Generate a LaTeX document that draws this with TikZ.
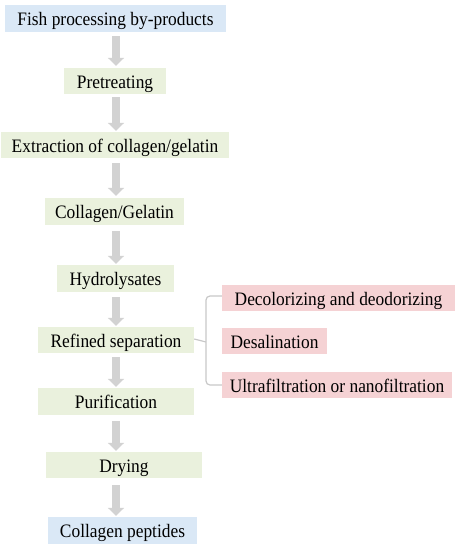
\documentclass[tikz,border=0pt]{standalone}
\usepackage{fontspec}
\setmainfont{Liberation Serif}[FakeStretch=0.915]
\usetikzlibrary{arrows.meta,calc}
\definecolor{boxblue}{HTML}{DAE8F6}
\definecolor{boxgreen}{HTML}{EAF1DD}
\definecolor{boxpink}{HTML}{F5D2D4}
\definecolor{arrowgray}{HTML}{D2D2D2}
\definecolor{bracketgray}{HTML}{C8C8C8}
\begin{document}
\begin{tikzpicture}[x=1pt,y=-1pt,
  box/.style={inner sep=0pt,font=\fontsize{19}{22}\selectfont,text=black,text height=14pt,text depth=0pt},
  bluebox/.style={box,fill=boxblue},
  greenbox/.style={box,fill=boxgreen},
  pinkbox/.style={box,fill=boxpink},
  flowarrow/.style={draw=arrowgray,line width=8pt,-{Triangle[width=16pt,length=8pt]}},
  bracketline/.style={draw=bracketgray,line width=1.2pt}]
\useasboundingbox (0,0) rectangle (465,550);
% boxes: centre, width, height
\node[bluebox,minimum width=221pt,minimum height=27pt] (b1) at (115.5,18.5) {Fish processing by-products};
\node[greenbox,minimum width=102pt,minimum height=26pt] (b2) at (115,81) {Pretreating};
\node[greenbox,minimum width=228pt,minimum height=26pt] (b3) at (115,145) {Extraction of collagen/gelatin};
\node[greenbox,minimum width=139pt,minimum height=27pt] (b4) at (114.5,211.5) {Collagen/Gelatin};
\node[greenbox,minimum width=117pt,minimum height=27pt] (b5) at (115.5,278.5) {Hydrolysates};
\node[greenbox,minimum width=156pt,minimum height=26pt] (b6) at (116,340) {Refined separation};
\node[greenbox,minimum width=156pt,minimum height=27pt] (b7) at (116,401.5) {Purification};
\node[greenbox,minimum width=156pt,minimum height=26pt] (b8) at (124,465) {Drying};
\node[bluebox,minimum width=149pt,minimum height=27pt] (b9) at (122.5,530.5) {Collagen peptides};
\node[pinkbox,minimum width=233pt,minimum height=26pt] (p1) at (338.5,298) {Decolorizing and deodorizing};
\node[pinkbox,minimum width=105pt,minimum height=26pt] (p2) at (274.5,341) {Desalination};
\node[pinkbox,minimum width=230pt,minimum height=26pt] (p3) at (337,385) {Ultrafiltration or nanofiltration};
% arrows
\coordinate (ax) at (116,0);
\draw[flowarrow] ([yshift=-4pt]b1.south -| ax) -- ([yshift=2pt]b2.north -| ax);
\draw[flowarrow] ([yshift=-3pt]b2.south -| ax) -- ([yshift=1pt]b3.north -| ax);
\draw[flowarrow] ([yshift=-5pt]b3.south -| ax) -- ([yshift=2pt]b4.north -| ax);
\draw[flowarrow] ([yshift=-6pt]b4.south -| ax) -- ([yshift=1pt]b5.north -| ax);
\draw[flowarrow] ([yshift=-5pt]b5.south -| ax) -- ([yshift=1pt]b6.north -| ax);
\draw[flowarrow] ([yshift=-4pt]b6.south -| ax) -- ([yshift=1pt]b7.north -| ax);
\draw[flowarrow] ([yshift=-6pt]b7.south -| ax) -- ([yshift=1pt]b8.north -| ax);
\draw[flowarrow] ([yshift=-7pt]b8.south -| ax) -- ([yshift=1pt]b9.north -| ax);
% bracket
\coordinate (bx) at (206,342);
\draw[bracketline] ([yshift=1pt]b6.east) -- (bx);
\draw[bracketline,rounded corners=4pt] ([yshift=2pt]p1.west) -| (bx) |- (p3.west);
\end{tikzpicture}
\end{document}
